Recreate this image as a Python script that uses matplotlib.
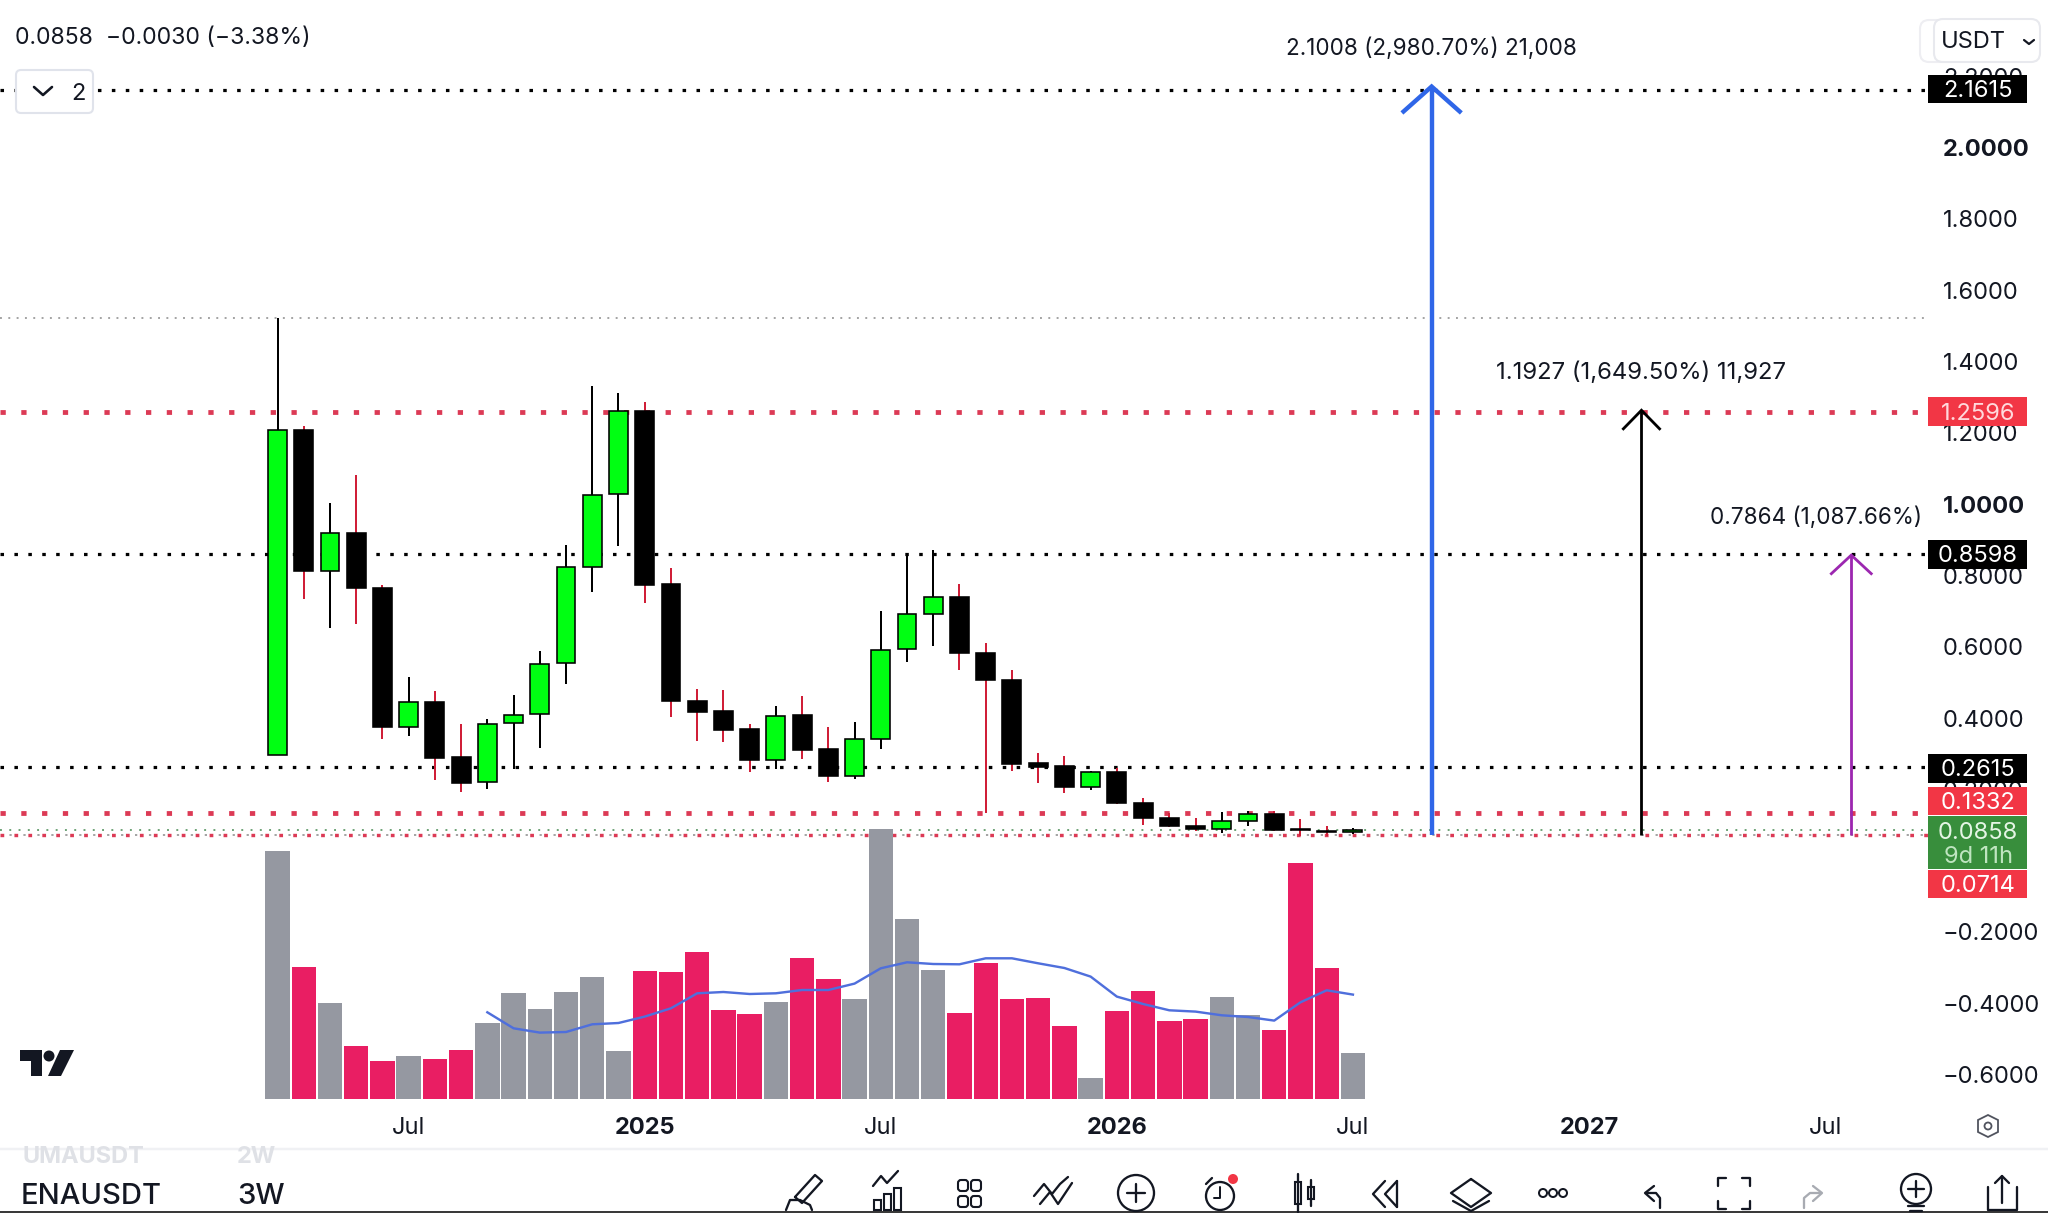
import matplotlib
matplotlib.use("Agg")
import matplotlib.pyplot as plt
from matplotlib.patches import Rectangle, FancyBboxPatch, Circle, Polygon
from matplotlib.transforms import Affine2D
import numpy as np

plt.rcParams['font.family'] = ['Inter', 'DejaVu Sans']

# ---- data -------------------------------------------------------------
opens = [0.2972, 1.2078, 0.8111, 0.9193, 0.7650, 0.3754, 0.4445, 0.2902, 0.2211, 0.3854, 0.4104, 0.5537,
         0.8242, 1.0285, 1.2599, 0.7751, 0.4485, 0.4184, 0.3683, 0.2832, 0.4075, 0.3130, 0.2373, 0.3411,
         0.5926, 0.6917, 0.7403, 0.5823, 0.5066, 0.2729, 0.2653, 0.2055, 0.2495, 0.1625, 0.1204, 0.0961,
         0.0896, 0.1102, 0.1307, 0.0887, 0.0840, 0.0815]
highs = [1.5224, 1.2179, 1.0035, 1.0816, 0.7731, 0.5146, 0.4755, 0.3834, 0.3984, 0.4635, 0.5867, 0.8863,
         1.3301, 1.3130, 1.2850, 0.8211, 0.4825, 0.4785, 0.3824, 0.4334, 0.4617, 0.3757, 0.3888, 0.6997,
         0.8554, 0.8712, 0.7749, 0.6094, 0.5347, 0.3009, 0.2934, 0.2523, 0.2607, 0.1747, 0.1326, 0.1186,
         0.1354, 0.1392, 0.1392, 0.1158, 0.0970, 0.0924]
lows = [0.2972, 0.7350, 0.6528, 0.6628, 0.3423, 0.3483, 0.2261, 0.1920, 0.2021, 0.2581, 0.3163, 0.4956,
        0.7540, 0.8823, 0.7230, 0.4024, 0.3343, 0.3323, 0.2481, 0.2561, 0.2859, 0.2214, 0.2289, 0.3130,
        0.5561, 0.6029, 0.5347, 0.1326, 0.2523, 0.2167, 0.1887, 0.1980, 0.1578, 0.0999, 0.0933, 0.0840,
        0.0765, 0.0980, 0.0830, 0.0700, 0.0700, 0.0756]
closes = [1.2068, 0.8111, 0.9193, 0.7650, 0.3743, 0.4445, 0.2882, 0.2181, 0.3844, 0.4084, 0.5527, 0.8222,
          1.0265, 1.2599, 0.7741, 0.4475, 0.4164, 0.3673, 0.2822, 0.4064, 0.3112, 0.2364, 0.3402, 0.5917,
          0.6908, 0.7394, 0.5814, 0.5057, 0.2719, 0.2635, 0.2055, 0.2485, 0.1607, 0.1195, 0.0961, 0.0887,
          0.1102, 0.1298, 0.0858, 0.0858, 0.0802, 0.0858]
volumes = [248, 132.7, 96.3, 53.7, 38, 43.3, 40.7, 49.3, 76.3, 106, 90.3, 107, 122, 48, 128, 127.3, 147.3,
           89.3, 85, 97, 141.3, 120.3, 100.7, 270.7, 180.3, 129.7, 86.7, 136, 100.7, 101.7, 73.7, 21.7,
           88.3, 108.3, 78, 80.7, 102.3, 84, 69.3, 236.7, 131.7, 46]
vol_ma_start = 8
vol_ma = [87, 71, 66.7, 67.3, 75, 76.3, 82.7, 91, 106, 107.3, 105.3, 106, 109.3, 109.3, 115.7, 131, 137,
          135.3, 135, 141, 141, 136, 131.3, 122.7, 102.7, 95.3, 89, 87.7, 84, 82.3, 78.7, 97, 109, 104.7]
x_ticks = [5, 14, 23, 32, 41, 50, 59]
x_labels = ['Jul', '2025', 'Jul', '2026', 'Jul', '2027', 'Jul']
x_bold = ['2025', '2026', '2027']
y_ticks = [2.2, 2.0, 1.8, 1.6, 1.4, 1.2, 1.0, 0.8, 0.6, 0.4, 0.2, -0.2, -0.4, -0.6]
y_bold = [2.0, 1.0]
black_levels = [2.1615, 0.8598, 0.2615]
red_levels = [1.2596, 0.1332]
low_level = 0.0714
last_price = 0.0858
ath_level = 1.5224
arrow_base = 0.0705
arrow_x = [44, 52, 60]
arrow_gain = [2.1008, 1.1927, 0.7864]
arrow_text = ['2.1008 (2,980.70%) 21,008', '1.1927 (1,649.50%) 11,927', '0.7864 (1,087.66%)']

W, H = 2048, 1213
fig = plt.figure(figsize=(W / 100, H / 100), dpi=100, facecolor='white')
ax = fig.add_axes([0, 0, 1, 1], facecolor='white')
X0, DX = 277.5, 26.23
PY0, PK = 860.6, 356.5
ax.set_xlim(-X0 / DX, (W - X0) / DX)
ax.set_ylim((PY0 - H) / PK, PY0 / PK)
for s in ax.spines.values():
    s.set_visible(False)

px = Affine2D().scale(1 / W, -1 / H).translate(0, 1) + fig.transFigure
P = 0.72  # points per pixel
TS = 17.0  # size of the scale labels

# ---- level lines -------------------------------------------------------
xr = (ax.get_xlim()[0], (1928 - X0) / DX)
for y in black_levels:
    ax.plot(xr, [y, y], color='#000000', lw=3.2 * P, ls=(0, (1.1, 3.25)), dash_capstyle='butt', zorder=1)
for y in red_levels:
    ax.plot(xr, [y, y], color='#dc3a55', lw=4.8 * P, ls=(0, (1.1, 3.23)), dash_capstyle='butt', zorder=1)
ax.plot(xr, [low_level, low_level], color='#dc3a55', lw=3.4 * P, ls=(0, (1.1, 3.0)), dash_capstyle='butt', zorder=1)
ax.plot(xr, [low_level, low_level], color='#888888', lw=1.5 * P, ls=(3, (1.5, 7.8)), dash_capstyle='butt', zorder=1)
ax.plot(xr, [last_price, last_price], color='#4f8f5a', lw=1.6 * P, ls=(0, (1.2, 4.6)), dash_capstyle='butt', zorder=1)
ax.plot(xr, [ath_level, ath_level], color='#8f8f8f', lw=1.6 * P, ls=(0, (1.2, 4.0)), dash_capstyle='butt', zorder=1)

# ---- candles -----------------------------------------------------------
for i, (o, h, l, c) in enumerate(zip(opens, highs, lows, closes)):
    up = c >= o
    ax.plot([i, i], [l, h], color='#000000' if up else '#d01f38', lw=2.0 * P, solid_capstyle='butt', zorder=3)
    ax.add_patch(Rectangle((i - 0.36, min(o, c)), 0.72, abs(c - o),
                           facecolor='#00ff12' if up else '#000000', edgecolor='#000000',
                           lw=1.6 * P, zorder=4))

# ---- arrows ------------------------------------------------------------
styles = [('#2f66e8', 4.4, 1.07, 0.07), ('#000000', 2.8, 0.69, 0.052), ('#9c27b0', 2.8, 0.76, 0.052)]
for xa, gain, (col, lw, hw, hh), txt in zip(arrow_x, arrow_gain, styles, arrow_text):
    top = arrow_base + gain
    ax.plot([xa, xa], [arrow_base, top], color=col, lw=lw * P, solid_capstyle='butt', zorder=5)
    ax.plot([xa - hw, xa, xa + hw], [top - hh, top, top - hh], color=col, lw=lw * P,
            solid_joinstyle='miter', zorder=5)
label_pos = [(1431, 49), (1641, 373), (1816, 518)]
label_size = [16.2, 17.2, 16.2]
for (lx, ly), sz, txt in zip(label_pos, label_size, arrow_text):
    ax.text(lx, ly, txt, transform=px, ha='center', va='center', fontsize=sz, color='#131722', zorder=6)

# ---- volume ------------------------------------------------------------
ax2 = ax.twinx()
ax2.set_ylim(-(H - 1099.3), 1099.3)
ax2.set_yticks([])
for s in ax2.spines.values():
    s.set_visible(False)
vol_colors = ['#9598a1' if c >= o else '#e91e63' for o, c in zip(opens, closes)]
ax2.bar(range(len(volumes)), volumes, width=0.93, color=vol_colors, linewidth=0, zorder=2)
ax2.plot(range(vol_ma_start, vol_ma_start + len(vol_ma)), vol_ma, color='#4f6fdc', lw=2.4 * P, zorder=3)

# ---- axis ticks (after twinx, which moves the price ticks) ---------------
ax.yaxis.tick_right()
ax.set_yticks(y_ticks)
ax.set_yticklabels([f'{v:.4f}'.replace('-', '\u2212') for v in y_ticks])
ax.tick_params(axis='y', length=0, pad=-75.6, labelsize=TS, labelcolor='#131722')
for t, v in zip(ax.get_yticklabels(), y_ticks):
    t.set_ha('left')
    if v in y_bold:
        t.set_fontweight('bold')
ax.set_xticks(x_ticks)
ax.set_xticklabels(x_labels)
ax.tick_params(axis='x', length=0, pad=-69, labelsize=TS, labelcolor='#131722')
for t in ax.get_xticklabels():
    if t.get_text() in x_bold:
        t.set_fontweight('bold')

# ---- UI helpers --------------------------------------------------------
def rect(x0, y0, x1, y1, fc, ec='none', lw=0, r=0, z=20):
    if r:
        p = FancyBboxPatch((x0 + r, y0 + r), x1 - x0 - 2 * r, y1 - y0 - 2 * r,
                           boxstyle=f'round,pad={r},rounding_size={r}', fc=fc, ec=ec, lw=lw,
                           transform=px, zorder=z, clip_on=False)
    else:
        p = Rectangle((x0, y0), x1 - x0, y1 - y0, fc=fc, ec=ec, lw=lw, transform=px, zorder=z, clip_on=False)
    ax2.add_patch(p)

def text(x, y, s, size=TS, color='#131722', ha='left', weight='normal', z=21):
    ax2.text(x, y, s, transform=px, ha=ha, va='center', fontsize=size, color=color, fontweight=weight,
             zorder=z, clip_on=False)

def line(xs, ys, color='#131722', lw=2.6, z=21):
    ax2.plot(xs, ys, color=color, lw=lw * P, transform=px, zorder=z, clip_on=False,
             solid_capstyle='round', solid_joinstyle='round', scalex=False, scaley=False)

def circ(x, y, r, fc='none', ec='#131722', lw=2.6, z=21):
    ax2.add_patch(Circle((x, y), r, fc=fc, ec=ec, lw=lw * P, transform=px, zorder=z, clip_on=False))

# ---- price boxes -------------------------------------------------------
boxes = [(75, 103, '#000000'), (397, 426, '#f23645'), (540, 569, '#000000'), (754, 783, '#000000'),
         (787, 815, '#f23645'), (816, 869, '#388e3c'), (870, 898, '#f23645')]
for y0, y1, c in boxes:
    rect(1928, y0, 2027, y1, c)
labels = [(91, '2.1615', 'white'), (413.5, '1.2596', '#ffd9dc'), (556.5, '0.8598', 'white'), (770, '0.2615', 'white'),
          (803, '0.1332', 'white'), (833, '0.0858', '#e4f5e4'), (857, '9d 11h', '#bfe5c0'), (886, '0.0714', 'white')]
for y, s, c in labels:
    text(1978, y, s, size=TS, color=c, ha='center')

# ---- header ------------------------------------------------------------
text(15, 38, '0.0858  \u22120.0030 (\u22123.38%)', size=16.6)
rect(16, 70, 93, 113, 'white', ec='#e0e3eb', lw=1.5, r=5)
line([34, 43, 52], [87, 95, 87], lw=2.6)
text(71, 94, '2', size=17)
rect(1920, 20, 1960, 62, 'white', ec='#eeeef2', lw=1.5, r=9, z=18)
rect(1934, 19, 2040, 62, 'white', ec='#e8e9ee', lw=1.5, r=9)
text(1941, 42, 'USDT', size=TS)
line([2024, 2029, 2034], [40, 44, 40], lw=2.2)

# ---- logo --------------------------------------------------------------
ax2.add_patch(Polygon([(20, 1050), (42, 1050), (42, 1076), (31, 1076), (31, 1061), (20, 1061)],
                      fc='#131722', ec='none', transform=px, zorder=21))
circ(49, 1056, 5.5, fc='#131722', ec='none', lw=0)
ax2.add_patch(Polygon([(60, 1050), (74, 1050), (61, 1076), (48, 1076)],
                      fc='#131722', ec='none', transform=px, zorder=21))

# ---- gear on time axis -------------------------------------------------
ax2.add_patch(Polygon([(1988, 1115), (1998, 1120), (1998, 1132), (1988, 1137), (1978, 1132), (1978, 1120)],
                      fc='none', ec='#50535e', lw=1.8 * P, transform=px, zorder=21))
circ(1988, 1126, 3.5, ec='#50535e', lw=1.8)

# ---- bottom bar --------------------------------------------------------
line([0, W], [1149, 1149], color='#f0f1f4', lw=2.5)
text(23, 1157, 'UMAUSDT', size=17, color='#dfe1e6', weight='bold')
text(237, 1157, '2W', size=17, color='#dfe1e6', weight='bold')
rect(0, 1167, W, 1213, 'white', z=20)
text(21, 1196, 'ENAUSDT', size=21, weight='medium')
text(237, 1196, '3W', size=21, weight='medium')
line([0, W], [1212, 1212], color='#3a3a3a', lw=2)

IC = '#131722'
# pen
line([795, 815, 822, 802, 795], [1197, 1175, 1181, 1203, 1197], lw=2.3)
line([786, 790, 800, 810, 812], [1210, 1200, 1200, 1205, 1210], lw=2.3)
# chart
for bx, by in [(874, 1200), (884, 1194), (894, 1188)]:
    rect(bx, by, bx + 7, 1210, 'white', ec=IC, lw=1.5, z=21)
line([873, 881, 887, 898], [1186, 1176, 1183, 1171], lw=2.3)
# grid
for gx in (958, 971):
    for gy in (1180, 1196):
        rect(gx, gy, gx + 10, gy + 11, 'white', ec=IC, lw=1.5, r=3, z=21)
# drawing tools
line([1034, 1044, 1052, 1060, 1068], [1196, 1184, 1194, 1184, 1177], lw=2.3)
line([1040, 1050, 1058, 1072], [1204, 1192, 1204, 1183], lw=2.3)
# plus
circ(1136, 1193, 18, lw=2.3)
line([1127, 1145], [1193, 1193], lw=2.3); line([1136, 1136], [1184, 1202], lw=2.3)
# alarm
circ(1220, 1196, 14, lw=2.3)
line([1220, 1220, 1214], [1187, 1198, 1198], lw=2)
line([1206, 1212], [1184, 1178], lw=2.3); circ(1233, 1179, 5, fc='#f23645', ec='none', lw=0)
# candles
rect(1295, 1182, 1301, 1204, 'white', ec=IC, lw=1.5, z=21); line([1298, 1298], [1174, 1212], lw=2.3)
rect(1308, 1187, 1314, 1199, 'white', ec=IC, lw=1.5, z=21); line([1311, 1311], [1180, 1206], lw=2.3)
# rewind
line([1385, 1373, 1385], [1181, 1194, 1207], lw=2.3); line([1397, 1385, 1397], [1181, 1194, 1207], lw=2.3); line([1397, 1397], [1181, 1207], lw=2.3)
# layers
line([1471, 1491, 1471, 1451, 1471], [1179, 1193, 1207, 1193, 1179], lw=2.3)
line([1453, 1471, 1489], [1201, 1211, 1201], lw=2.3)
# dots
for dx in (1543, 1553, 1563):
    circ(dx, 1193, 4, lw=2.0)
# undo / redo
line([1654, 1645, 1654], [1186, 1193, 1201], lw=2.3); line([1646, 1656, 1660, 1660], [1193, 1193, 1198, 1208], lw=2.3)
line([1804, 1804, 1810, 1820], [1208, 1198, 1193, 1193], color='#a8abb2', lw=2.3); line([1813, 1822, 1813], [1186, 1193, 1201], color='#a8abb2', lw=2.3)
# fullscreen
for (a, b, c, d) in [(1726, 1718, 1178, 1186), (1742, 1750, 1178, 1186), (1726, 1718, 1209, 1201), (1742, 1750, 1209, 1201)]:
    line([a, b, b], [c, c, d], lw=2.3)
# bulb
circ(1916, 1189, 15, lw=2.3)
line([1908, 1924], [1189, 1189], lw=2.3); line([1916, 1916], [1181, 1197], lw=2.3)
line([1908, 1924], [1206, 1206], lw=2.3); line([1910, 1922], [1211, 1211], lw=2.3)
# share
line([1988, 1988, 2017, 2017], [1187, 1210, 1210, 1187], lw=2.3)
line([2002, 2002], [1176, 1203], lw=2.3); line([1995, 2002, 2009], [1183, 1176, 1183], lw=2.3)

ax.set_xlim(-X0 / DX, (W - X0) / DX)
fig.savefig('out.png', dpi=100, facecolor='white')
